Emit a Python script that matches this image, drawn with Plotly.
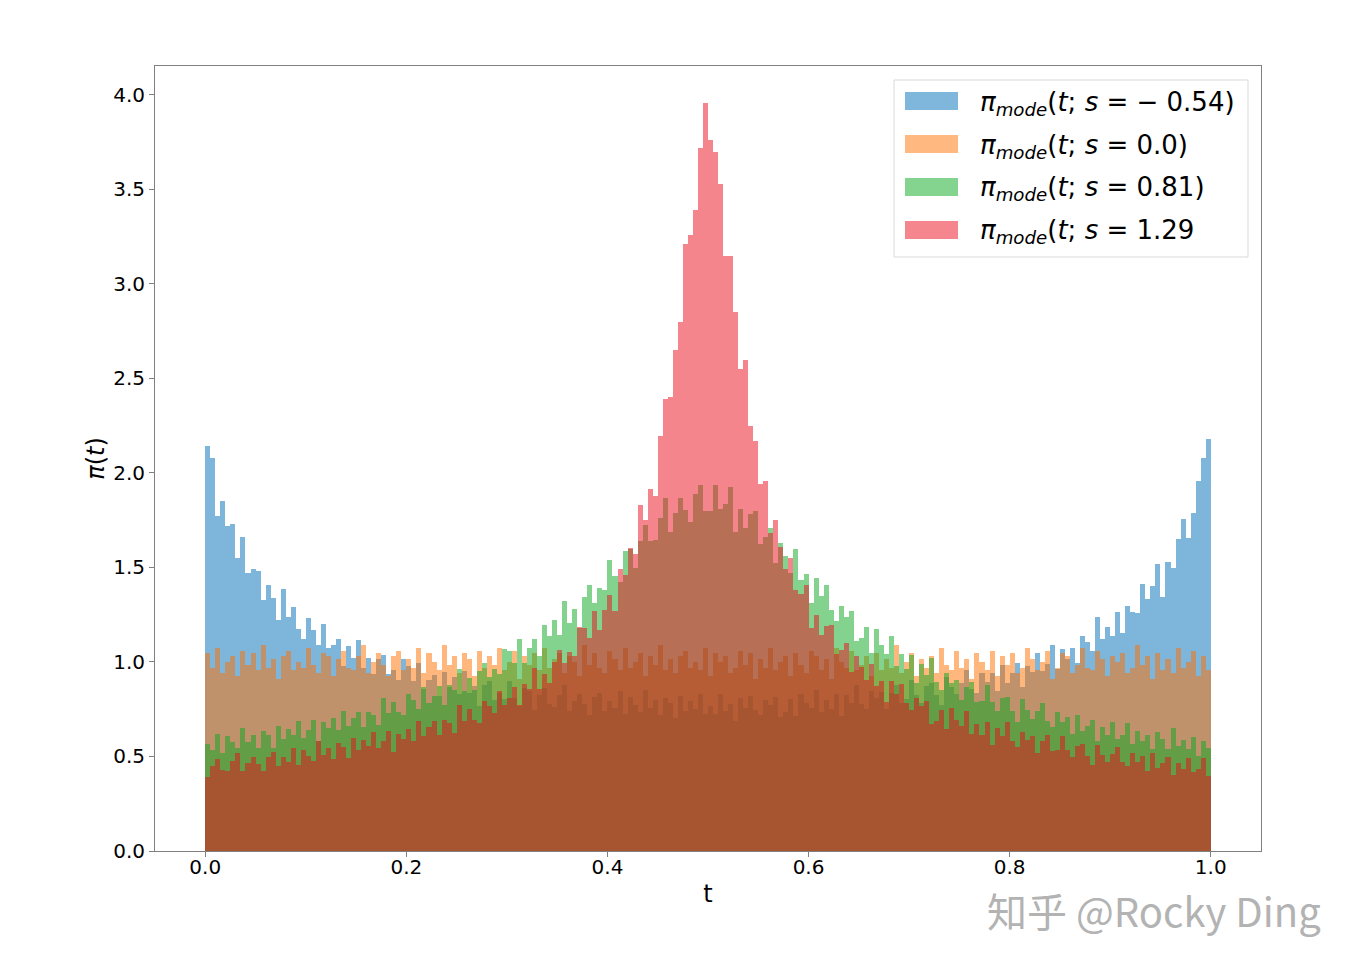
import numpy as np
import plotly.graph_objects as go

# ---------------- data (density per bin, 200 bins on [0, 1]) ----------------
n_bins = 200
t_min, t_max = 0.0, 1.0

s_values = ["−0.54", "0.0", "0.81", "1.29"]
legend_texts = [
    "<i>π</i><sub><i>mode</i></sub>(<i>t</i>; <i>s</i> = − 0.54)",
    "<i>π</i><sub><i>mode</i></sub>(<i>t</i>; <i>s</i> = 0.0)",
    "<i>π</i><sub><i>mode</i></sub>(<i>t</i>; <i>s</i> = 0.81)",
    "<i>π</i><sub><i>mode</i></sub>(<i>t</i>; <i>s</i> = 1.29",
]

blue = [
    2.14, 2.08, 1.77, 1.85, 1.72, 1.73, 1.55, 1.66, 1.47, 1.49,
    1.48, 1.33, 1.405, 1.34, 1.22, 1.385, 1.24, 1.29, 1.175, 1.12,
    1.234, 1.171, 1.092, 1.20, 1.073, 1.09, 1.123, 0.98, 1.082, 1.019,
    1.115, 0.97, 1.02, 0.935, 1.015, 1.035, 0.935, 0.955, 0.903, 1.015,
    0.978, 0.898, 0.993, 0.855, 0.906, 0.929, 0.822, 0.946, 0.868, 0.92,
    0.829, 0.95, 0.834, 0.871, 0.769, 0.877, 0.901, 0.799, 0.837, 0.805,
    0.898, 0.812, 0.769, 0.861, 0.844, 0.747, 0.825, 0.862, 0.779, 0.763,
    0.827, 0.878, 0.743, 0.794, 0.832, 0.777, 0.722, 0.813, 0.838, 0.743,
    0.795, 0.754, 0.845, 0.725, 0.816, 0.775, 0.734, 0.852, 0.759, 0.797,
    0.718, 0.808, 0.781, 0.703, 0.819, 0.741, 0.792, 0.753, 0.83, 0.726,
    0.765, 0.726, 0.831, 0.74, 0.78, 0.689, 0.807, 0.755, 0.821, 0.744,
    0.718, 0.798, 0.773, 0.814, 0.709, 0.736, 0.804, 0.713, 0.833, 0.782,
    0.756, 0.852, 0.733, 0.801, 0.75, 0.832, 0.714, 0.823, 0.785, 0.88,
    0.776, 0.752, 0.849, 0.811, 0.841, 0.75, 0.834, 0.877, 0.785, 0.803,
    0.903, 0.823, 0.785, 0.873, 0.891, 0.825, 0.773, 0.918, 0.866, 0.829,
    0.89, 0.955, 0.859, 0.836, 0.944, 0.892, 0.942, 0.848, 0.985, 0.89,
    0.94, 0.993, 0.865, 0.98, 0.945, 1.045, 0.95, 0.99, 1.09, 0.965,
    1.067, 1.018, 1.076, 0.995, 1.138, 1.105, 1.056, 1.236, 1.123, 1.186,
    1.138, 1.263, 1.153, 1.295, 1.263, 1.258, 1.41, 1.335, 1.40, 1.518,
    1.344, 1.531, 1.497, 1.652, 1.754, 1.656, 1.789, 1.96, 2.08, 2.18,
]

orange = [
    1.045, 0.97, 1.075, 0.94, 1.00, 1.03, 0.925, 1.06, 0.985, 1.045,
    0.955, 1.09, 0.97, 1.015, 0.91, 1.03, 1.06, 0.955, 1.00, 0.97,
    1.075, 0.985, 0.94, 1.045, 1.03, 0.925, 1.015, 1.06, 0.97, 0.955,
    1.03, 1.09, 0.94, 1.00, 1.045, 0.985, 0.925, 1.03, 1.06, 0.955,
    1.015, 0.97, 1.075, 0.94, 1.045, 1.00, 0.955, 1.09, 0.985, 1.03,
    0.94, 1.045, 1.015, 0.925, 1.06, 0.97, 1.03, 0.985, 1.075, 0.955,
    1.00, 1.06, 0.91, 1.03, 0.985, 1.045, 0.955, 1.075, 0.97, 1.015,
    1.045, 0.94, 1.03, 1.00, 0.925, 1.09, 0.985, 1.045, 0.97, 0.94,
    1.06, 1.015, 0.955, 1.075, 0.97, 1.00, 1.045, 0.925, 1.03, 0.985,
    1.09, 0.955, 1.015, 0.94, 1.03, 1.06, 0.97, 1.00, 0.955, 1.075,
    0.925, 1.045, 1.00, 1.03, 0.94, 0.97, 1.06, 0.985, 1.045, 0.91,
    1.015, 0.97, 1.075, 0.955, 1.00, 1.03, 0.925, 1.045, 0.985, 0.94,
    1.06, 1.03, 0.955, 1.015, 0.91, 1.075, 1.00, 0.97, 1.06, 0.955,
    0.985, 1.03, 0.925, 1.045, 0.955, 1.015, 0.97, 1.09, 0.94, 1.00,
    1.045, 0.925, 1.015, 0.97, 1.03, 0.94, 1.075, 0.985, 0.955, 1.06,
    0.97, 1.015, 0.91, 1.045, 1.00, 0.955, 1.06, 0.925, 1.03, 0.985,
    1.045, 0.94, 0.97, 1.075, 1.015, 0.955, 1.00, 1.06, 0.91, 0.97,
    1.045, 1.03, 0.94, 0.985, 1.075, 0.97, 0.955, 1.06, 1.015, 0.925,
    1.03, 1.00, 1.045, 0.94, 0.97, 1.09, 0.985, 1.03, 0.91, 1.045,
    0.955, 1.015, 0.94, 1.075, 0.97, 1.00, 1.06, 0.925, 1.03, 0.955,
]

green = [
    0.567, 0.536, 0.62, 0.521, 0.606, 0.575, 0.544, 0.652, 0.576, 0.614,
    0.547, 0.635, 0.615, 0.547, 0.659, 0.591, 0.643, 0.612, 0.689, 0.598,
    0.64, 0.694, 0.58, 0.681, 0.651, 0.705, 0.638, 0.74, 0.662, 0.704,
    0.736, 0.655, 0.737, 0.72, 0.665, 0.811, 0.731, 0.79, 0.735, 0.718,
    0.83, 0.798, 0.752, 0.868, 0.781, 0.818, 0.871, 0.774, 0.88, 0.851,
    0.963, 0.844, 0.914, 0.853, 0.951, 0.992, 0.918, 0.962, 0.934, 1.067,
    1.058, 0.994, 1.122, 0.994, 1.074, 1.122, 1.03, 1.194, 1.136, 1.222,
    1.143, 1.323, 1.205, 1.28, 1.18, 1.345, 1.407, 1.311, 1.391, 1.383,
    1.54, 1.453, 1.424, 1.587, 1.598, 1.495, 1.639, 1.726, 1.64, 1.643,
    1.76, 1.865, 1.69, 1.79, 1.87, 1.805, 1.738, 1.888, 1.935, 1.80,
    1.80, 1.935, 1.808, 1.838, 1.925, 1.69, 1.81, 1.71, 1.785, 1.80,
    1.624, 1.659, 1.707, 1.525, 1.628, 1.56, 1.473, 1.595, 1.434, 1.464,
    1.313, 1.444, 1.347, 1.407, 1.275, 1.215, 1.297, 1.24, 1.271, 1.109,
    1.126, 1.184, 1.05, 1.174, 1.09, 1.042, 1.138, 0.978, 1.042, 0.962,
    1.038, 0.891, 0.991, 0.933, 1.021, 0.893, 0.853, 0.943, 0.888, 0.905,
    0.798, 0.867, 0.896, 0.79, 0.791, 0.876, 0.787, 0.738, 0.811, 0.817,
    0.743, 0.685, 0.802, 0.744, 0.699, 0.741, 0.783, 0.687, 0.655, 0.736,
    0.68, 0.71, 0.62, 0.722, 0.633, 0.663, 0.693, 0.58, 0.658, 0.616,
    0.682, 0.593, 0.612, 0.679, 0.567, 0.635, 0.583, 0.615, 0.539, 0.631,
    0.591, 0.541, 0.652, 0.556, 0.587, 0.537, 0.602, 0.505, 0.582, 0.544,
]

red = [
    0.389, 0.452, 0.485, 0.428, 0.422, 0.475, 0.518, 0.422, 0.465, 0.498,
    0.46, 0.422, 0.499, 0.523, 0.452, 0.499, 0.47, 0.547, 0.456, 0.533,
    0.504, 0.477, 0.581, 0.509, 0.547, 0.487, 0.569, 0.552, 0.491, 0.596,
    0.534, 0.585, 0.556, 0.63, 0.543, 0.583, 0.634, 0.524, 0.621, 0.592,
    0.646, 0.582, 0.687, 0.611, 0.656, 0.688, 0.613, 0.693, 0.678, 0.626,
    0.773, 0.69, 0.751, 0.694, 0.676, 0.791, 0.767, 0.729, 0.848, 0.772,
    0.812, 0.869, 0.772, 0.884, 0.857, 0.97, 0.858, 0.934, 0.89, 1.0,
    1.063, 0.993, 1.051, 1.03, 1.184, 1.178, 1.125, 1.27, 1.168, 1.274,
    1.352, 1.27, 1.49, 1.458, 1.602, 1.572, 1.83, 1.75, 1.916, 1.88,
    2.196, 2.39, 2.40, 2.65, 2.80, 3.21, 3.26, 3.39, 3.72, 3.955,
    3.76, 3.70, 3.53, 3.15, 3.15, 2.85, 2.55, 2.60, 2.25, 2.17,
    1.942, 1.959, 1.682, 1.749, 1.608, 1.49, 1.55, 1.382, 1.36, 1.406,
    1.178, 1.248, 1.142, 1.189, 1.194, 1.04, 1.062, 1.099, 0.945, 1.031,
    0.972, 0.904, 0.99, 0.872, 0.90, 0.787, 0.898, 0.828, 0.883, 0.784,
    0.746, 0.809, 0.768, 0.793, 0.674, 0.689, 0.746, 0.647, 0.755, 0.695,
    0.662, 0.738, 0.621, 0.673, 0.616, 0.68, 0.563, 0.651, 0.606, 0.682,
    0.58, 0.552, 0.628, 0.588, 0.606, 0.52, 0.584, 0.613, 0.527, 0.534,
    0.607, 0.535, 0.497, 0.558, 0.564, 0.503, 0.454, 0.559, 0.51, 0.471,
    0.512, 0.55, 0.473, 0.449, 0.52, 0.473, 0.502, 0.425, 0.517, 0.44,
    0.468, 0.495, 0.402, 0.468, 0.435, 0.492, 0.418, 0.435, 0.492, 0.399,
]

x_ticks = [0.0, 0.2, 0.4, 0.6, 0.8, 1.0]
y_ticks = [0.0, 0.5, 1.0, 1.5, 2.0, 2.5, 3.0, 3.5, 4.0]

# ---------------- figure ----------------
W, H = 1356, 970
ML, MR, MT, MB = 155, 95, 66, 119
PW, PH = W - ML - MR, H - MT - MB

FONT = "DejaVu Sans"
colors = ["#006db9", "#ff7100", "#09a91f", "#eb0d1d"]
series = [blue, orange, green, red]

edges = np.linspace(t_min, t_max, n_bins + 1)
centers = (edges[:-1] + edges[1:]) / 2
bw = edges[1] - edges[0]

fig = go.Figure()
for vals, col, lab in zip(series, colors, s_values):
    fig.add_trace(go.Bar(
        x=centers, y=vals, width=bw,
        marker=dict(color=col, line=dict(width=0)),
        opacity=0.5, showlegend=False,
        name=f"π_mode(t; s = {lab})",
    ))

ymax = max(max(s) for s in series) * 1.05
span = t_max - t_min

def px(x):
    return (x - ML) / PW

def py(y):
    return (MT + PH - y) / PH

axis_common = dict(
    showline=True, mirror=True, linecolor="#808080", linewidth=1,
    ticks="outside", ticklen=5, tickwidth=1, tickcolor="#808080",
    showgrid=False, zeroline=False,
    tickfont=dict(family=FONT, size=20, color="#000000"),
)

fig.update_layout(
    width=W, height=H,
    margin=dict(l=ML, r=MR, t=MT, b=MB),
    paper_bgcolor="white", plot_bgcolor="white",
    barmode="overlay", bargap=0,
    font=dict(family=FONT, color="#000000"),
    xaxis=dict(
        range=[t_min - 0.05 * span, t_max + 0.05 * span],
        tickvals=x_ticks, ticktext=[f"{v:.1f}" for v in x_ticks],
        ticklabelstandoff=-7,
        title=dict(text="t", font=dict(family=FONT, size=24), standoff=7),
        **axis_common,
    ),
    yaxis=dict(
        range=[0, ymax],
        tickvals=y_ticks, ticktext=[f"{v:.1f}" for v in y_ticks],
        title=dict(text="<i>π</i>(<i>t</i>)", font=dict(family=FONT, size=24), standoff=1),
        **axis_common,
    ),
)

# ---------------- legend (matplotlib style) ----------------
shapes = []
annotations = []
shapes.append(dict(
    type="rect", xref="paper", yref="paper",
    x0=px(894), x1=px(1248), y0=py(257), y1=py(80),
    line=dict(color="#d9d9d9", width=1), fillcolor="rgba(255,255,255,0.8)",
    layer="above",
))
row_y = [101, 144, 187, 230]
for col, txt, ry in zip(colors, legend_texts, row_y):
    shapes.append(dict(
        type="rect", xref="paper", yref="paper",
        x0=px(905), x1=px(958), y0=py(ry + 9), y1=py(ry - 9),
        line=dict(width=0), fillcolor=col, opacity=0.5, layer="above",
    ))
    annotations.append(dict(
        xref="paper", yref="paper", x=px(978), y=py(ry + 2),
        xanchor="left", yanchor="middle", showarrow=False,
        text=txt,
        font=dict(family=FONT, size=26, color="#000000"),
    ))

# watermark
annotations.append(dict(
    xref="paper", yref="paper", x=px(1323), y=py(910),
    xanchor="right", yanchor="middle", showarrow=False,
    text="知乎 @Rocky Ding",
    font=dict(family="Noto Sans CJK SC", size=40, color="#b3b3b3"),
))

fig.update_layout(shapes=shapes, annotations=annotations)

fig.write_html("out.html")
